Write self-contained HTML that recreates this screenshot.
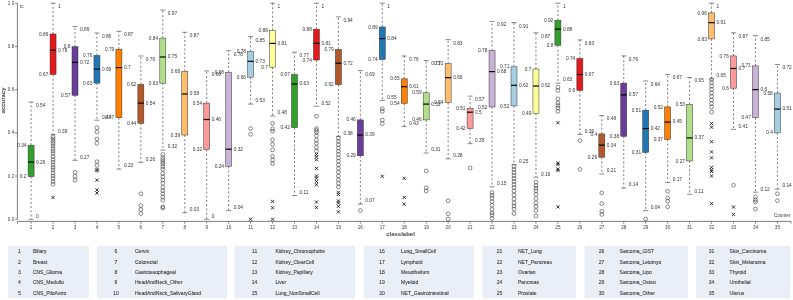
<!DOCTYPE html>
<html><head><meta charset="utf-8"><style>
html,body{margin:0;padding:0;background:#fff;width:793px;height:300px;overflow:hidden}
svg{display:block;will-change:transform}
</style></head><body>
<svg width="793" height="300" viewBox="0 0 793 300"><g stroke="#6e6e6e" stroke-width="0.9" fill="none">
<path d="M17.4 3.2V219.3"/>
<path d="M15 219.30H17.4"/>
<path d="M15 176.08H17.4"/>
<path d="M15 132.86H17.4"/>
<path d="M15 89.64H17.4"/>
<path d="M15 46.42H17.4"/>
<path d="M15 3.20H17.4"/>
<path d="M17.4 221.4H791"/>
<path d="M17.4 221.4V223.6M791 221.4V223.6"/>
<path d="M31.10 221.4V223.6"/>
<path d="M53.05 221.4V223.6"/>
<path d="M75.00 221.4V223.6"/>
<path d="M96.95 221.4V223.6"/>
<path d="M118.90 221.4V223.6"/>
<path d="M140.85 221.4V223.6"/>
<path d="M162.80 221.4V223.6"/>
<path d="M184.75 221.4V223.6"/>
<path d="M206.70 221.4V223.6"/>
<path d="M228.65 221.4V223.6"/>
<path d="M250.60 221.4V223.6"/>
<path d="M272.55 221.4V223.6"/>
<path d="M294.50 221.4V223.6"/>
<path d="M316.45 221.4V223.6"/>
<path d="M338.40 221.4V223.6"/>
<path d="M360.35 221.4V223.6"/>
<path d="M382.30 221.4V223.6"/>
<path d="M404.25 221.4V223.6"/>
<path d="M426.20 221.4V223.6"/>
<path d="M448.15 221.4V223.6"/>
<path d="M470.10 221.4V223.6"/>
<path d="M492.05 221.4V223.6"/>
<path d="M514.00 221.4V223.6"/>
<path d="M535.95 221.4V223.6"/>
<path d="M557.90 221.4V223.6"/>
<path d="M579.85 221.4V223.6"/>
<path d="M601.80 221.4V223.6"/>
<path d="M623.75 221.4V223.6"/>
<path d="M645.70 221.4V223.6"/>
<path d="M667.65 221.4V223.6"/>
<path d="M689.60 221.4V223.6"/>
<path d="M711.55 221.4V223.6"/>
<path d="M733.50 221.4V223.6"/>
<path d="M755.45 221.4V223.6"/>
<path d="M777.40 221.4V223.6"/>
</g>
<g font-family="Liberation Sans, sans-serif" font-size="4.6" fill="#3a3a3a">
<text x="14.2" y="220.90" text-anchor="end">0.0</text>
<text x="14.2" y="177.68" text-anchor="end">0.2</text>
<text x="14.2" y="134.46" text-anchor="end">0.4</text>
<text x="14.2" y="91.24" text-anchor="end">0.6</text>
<text x="14.2" y="48.02" text-anchor="end">0.8</text>
<text x="14.2" y="4.80" text-anchor="end">1.0</text>
<text x="31.10" y="228.6" text-anchor="middle">1</text>
<text x="53.05" y="228.6" text-anchor="middle">2</text>
<text x="75.00" y="228.6" text-anchor="middle">3</text>
<text x="96.95" y="228.6" text-anchor="middle">4</text>
<text x="118.90" y="228.6" text-anchor="middle">5</text>
<text x="140.85" y="228.6" text-anchor="middle">6</text>
<text x="162.80" y="228.6" text-anchor="middle">7</text>
<text x="184.75" y="228.6" text-anchor="middle">8</text>
<text x="206.70" y="228.6" text-anchor="middle">9</text>
<text x="228.65" y="228.6" text-anchor="middle">10</text>
<text x="250.60" y="228.6" text-anchor="middle">11</text>
<text x="272.55" y="228.6" text-anchor="middle">12</text>
<text x="294.50" y="228.6" text-anchor="middle">13</text>
<text x="316.45" y="228.6" text-anchor="middle">14</text>
<text x="338.40" y="228.6" text-anchor="middle">15</text>
<text x="360.35" y="228.6" text-anchor="middle">16</text>
<text x="382.30" y="228.6" text-anchor="middle">17</text>
<text x="404.25" y="228.6" text-anchor="middle">18</text>
<text x="426.20" y="228.6" text-anchor="middle">19</text>
<text x="448.15" y="228.6" text-anchor="middle">20</text>
<text x="470.10" y="228.6" text-anchor="middle">21</text>
<text x="492.05" y="228.6" text-anchor="middle">22</text>
<text x="514.00" y="228.6" text-anchor="middle">23</text>
<text x="535.95" y="228.6" text-anchor="middle">24</text>
<text x="557.90" y="228.6" text-anchor="middle">25</text>
<text x="579.85" y="228.6" text-anchor="middle">26</text>
<text x="601.80" y="228.6" text-anchor="middle">27</text>
<text x="623.75" y="228.6" text-anchor="middle">28</text>
<text x="645.70" y="228.6" text-anchor="middle">29</text>
<text x="667.65" y="228.6" text-anchor="middle">30</text>
<text x="689.60" y="228.6" text-anchor="middle">31</text>
<text x="711.55" y="228.6" text-anchor="middle">32</text>
<text x="733.50" y="228.6" text-anchor="middle">33</text>
<text x="755.45" y="228.6" text-anchor="middle">34</text>
<text x="777.40" y="228.6" text-anchor="middle">35</text>
</g>
<text x="400.5" y="235.8" font-family="Liberation Sans, sans-serif" font-size="6" font-weight="bold" fill="#444" text-anchor="middle">classlabel</text>
<text transform="translate(5.0 100.4) rotate(-90)" font-family="Liberation Sans, sans-serif" font-size="6" font-weight="bold" fill="#444" text-anchor="middle">accuracy</text>
<text x="19.8" y="8.0" font-family="Liberation Sans, sans-serif" font-size="4.8" fill="#444">tc</text>
<text x="774" y="216.6" font-family="Liberation Sans, sans-serif" font-size="4.6" fill="#3a3a3a">Counter</text>
<path d="M31.10 145.20V102.10M31.10 176.70V219.30" stroke="#505050" stroke-width="0.75" stroke-dasharray="2 2.2" fill="none"/>
<path d="M28.60 102.10H33.60M28.60 219.30H33.60" stroke="#555" stroke-width="0.7" fill="none"/>
<rect x="28.10" y="145.20" width="6.00" height="31.50" fill="#33A02C" stroke="#333" stroke-width="0.5"/>
<path d="M28.10 162.10H34.10" stroke="#000" stroke-width="1.2"/>
<g font-family="Liberation Sans, sans-serif" font-size="4.8" fill="#333">
<text x="36.10" y="107.00">0.54</text>
<text x="36.10" y="217.60">0</text>
<text x="36.10" y="163.50">0.26</text>
<text x="26.50" y="146.80" text-anchor="end">0.34</text>
<text x="26.50" y="178.30" text-anchor="end">0.2</text>
</g>
<path d="M53.05 34.00V3.20M53.05 74.51V134.60" stroke="#505050" stroke-width="0.75" stroke-dasharray="2 2.2" fill="none"/>
<path d="M50.55 3.20H55.55M50.55 134.60H55.55" stroke="#555" stroke-width="0.7" fill="none"/>
<rect x="50.05" y="34.00" width="6.00" height="40.51" fill="#E31A1C" stroke="#333" stroke-width="0.5"/>
<path d="M50.05 50.20H56.05" stroke="#000" stroke-width="1.2"/>
<circle cx="53.05" cy="136.80" r="1.9" fill="none" stroke="#3a3a3a" stroke-width="0.6"/>
<circle cx="53.05" cy="139.00" r="1.9" fill="none" stroke="#3a3a3a" stroke-width="0.6"/>
<circle cx="53.05" cy="141.20" r="1.9" fill="none" stroke="#3a3a3a" stroke-width="0.6"/>
<circle cx="53.05" cy="143.50" r="1.9" fill="none" stroke="#3a3a3a" stroke-width="0.6"/>
<circle cx="53.05" cy="146.00" r="1.9" fill="none" stroke="#3a3a3a" stroke-width="0.6"/>
<circle cx="53.05" cy="148.50" r="1.9" fill="none" stroke="#3a3a3a" stroke-width="0.6"/>
<circle cx="53.05" cy="151.00" r="1.9" fill="none" stroke="#3a3a3a" stroke-width="0.6"/>
<circle cx="53.05" cy="153.50" r="1.9" fill="none" stroke="#3a3a3a" stroke-width="0.6"/>
<circle cx="53.05" cy="156.50" r="1.9" fill="none" stroke="#3a3a3a" stroke-width="0.6"/>
<circle cx="53.05" cy="159.50" r="1.9" fill="none" stroke="#3a3a3a" stroke-width="0.6"/>
<circle cx="53.05" cy="162.00" r="1.9" fill="none" stroke="#3a3a3a" stroke-width="0.6"/>
<circle cx="53.05" cy="165.00" r="1.9" fill="none" stroke="#3a3a3a" stroke-width="0.6"/>
<circle cx="53.05" cy="167.50" r="1.9" fill="none" stroke="#3a3a3a" stroke-width="0.6"/>
<circle cx="53.05" cy="170.00" r="1.9" fill="none" stroke="#3a3a3a" stroke-width="0.6"/>
<circle cx="53.05" cy="173.00" r="1.9" fill="none" stroke="#3a3a3a" stroke-width="0.6"/>
<circle cx="53.05" cy="176.00" r="1.9" fill="none" stroke="#3a3a3a" stroke-width="0.6"/>
<circle cx="53.05" cy="178.50" r="1.9" fill="none" stroke="#3a3a3a" stroke-width="0.6"/>
<circle cx="53.05" cy="181.50" r="1.9" fill="none" stroke="#3a3a3a" stroke-width="0.6"/>
<circle cx="53.05" cy="184.20" r="1.9" fill="none" stroke="#3a3a3a" stroke-width="0.6"/>
<path d="M51.45 195.90L54.65 199.10M51.45 199.10L54.65 195.90" stroke="#111" stroke-width="0.85"/>
<g font-family="Liberation Sans, sans-serif" font-size="4.8" fill="#333">
<text x="58.05" y="8.10">1</text>
<text x="58.05" y="132.90">0.39</text>
<text x="58.05" y="51.60">0.78</text>
<text x="48.45" y="35.60" text-anchor="end">0.86</text>
<text x="48.45" y="76.11" text-anchor="end">0.67</text>
</g>
<path d="M75.00 46.70V26.50M75.00 95.30V160.30" stroke="#505050" stroke-width="0.75" stroke-dasharray="2 2.2" fill="none"/>
<path d="M72.50 26.50H77.50M72.50 160.30H77.50" stroke="#555" stroke-width="0.7" fill="none"/>
<rect x="72.00" y="46.70" width="6.00" height="48.60" fill="#6A3D9A" stroke="#333" stroke-width="0.5"/>
<path d="M72.00 62.40H78.00" stroke="#000" stroke-width="1.2"/>
<circle cx="75.00" cy="172.30" r="1.9" fill="none" stroke="#3a3a3a" stroke-width="0.6"/>
<circle cx="75.00" cy="176.30" r="1.9" fill="none" stroke="#3a3a3a" stroke-width="0.6"/>
<circle cx="75.00" cy="180.00" r="1.9" fill="none" stroke="#3a3a3a" stroke-width="0.6"/>
<g font-family="Liberation Sans, sans-serif" font-size="4.8" fill="#333">
<text x="80.00" y="31.40">0.89</text>
<text x="80.00" y="158.60">0.27</text>
<text x="80.00" y="63.80">0.72</text>
<text x="70.40" y="48.30" text-anchor="end">0.8</text>
<text x="70.40" y="96.90" text-anchor="end">0.57</text>
</g>
<path d="M96.95 55.50V33.00M96.95 83.16V120.20" stroke="#505050" stroke-width="0.75" stroke-dasharray="2 2.2" fill="none"/>
<path d="M94.45 33.00H99.45M94.45 120.20H99.45" stroke="#555" stroke-width="0.7" fill="none"/>
<rect x="93.95" y="55.50" width="6.00" height="27.66" fill="#1F78B4" stroke="#333" stroke-width="0.5"/>
<path d="M93.95 69.10H99.95" stroke="#000" stroke-width="1.2"/>
<circle cx="96.95" cy="127.70" r="1.9" fill="none" stroke="#3a3a3a" stroke-width="0.6"/>
<circle cx="96.95" cy="132.00" r="1.9" fill="none" stroke="#3a3a3a" stroke-width="0.6"/>
<circle cx="96.95" cy="139.00" r="1.9" fill="none" stroke="#3a3a3a" stroke-width="0.6"/>
<circle cx="96.95" cy="143.30" r="1.9" fill="none" stroke="#3a3a3a" stroke-width="0.6"/>
<circle cx="96.95" cy="161.70" r="1.9" fill="none" stroke="#3a3a3a" stroke-width="0.6"/>
<circle cx="96.95" cy="165.40" r="1.9" fill="none" stroke="#3a3a3a" stroke-width="0.6"/>
<circle cx="96.95" cy="170.20" r="1.9" fill="none" stroke="#3a3a3a" stroke-width="0.6"/>
<path d="M95.35 168.60L98.55 171.80M95.35 171.80L98.55 168.60" stroke="#111" stroke-width="0.85"/>
<path d="M95.35 178.60L98.55 181.80M95.35 181.80L98.55 178.60" stroke="#111" stroke-width="0.85"/>
<path d="M95.35 188.40L98.55 191.60M95.35 191.60L98.55 188.40" stroke="#111" stroke-width="0.85"/>
<path d="M95.35 191.40L98.55 194.60M95.35 194.60L98.55 191.40" stroke="#111" stroke-width="0.85"/>
<g font-family="Liberation Sans, sans-serif" font-size="4.8" fill="#333">
<text x="101.95" y="37.90">0.86</text>
<text x="101.95" y="118.50">0.47</text>
<text x="101.95" y="70.50">0.69</text>
<text x="92.35" y="57.10" text-anchor="end">0.76</text>
<text x="92.35" y="84.76" text-anchor="end">0.63</text>
</g>
<path d="M118.90 49.20V31.29M118.90 117.73V169.10" stroke="#505050" stroke-width="0.75" stroke-dasharray="2 2.2" fill="none"/>
<path d="M116.40 31.29H121.40M116.40 169.10H121.40" stroke="#555" stroke-width="0.7" fill="none"/>
<rect x="115.90" y="49.20" width="6.00" height="68.53" fill="#FF7F00" stroke="#333" stroke-width="0.5"/>
<path d="M115.90 67.60H121.90" stroke="#000" stroke-width="1.2"/>
<g font-family="Liberation Sans, sans-serif" font-size="4.8" fill="#333">
<text x="123.90" y="36.19">0.87</text>
<text x="123.90" y="167.40">0.23</text>
<text x="123.90" y="69.00">0.7</text>
<text x="114.30" y="50.80" text-anchor="end">0.79</text>
<text x="114.30" y="119.33" text-anchor="end">0.47</text>
</g>
<path d="M140.85 84.50V56.00M140.85 123.30V162.30" stroke="#505050" stroke-width="0.75" stroke-dasharray="2 2.2" fill="none"/>
<path d="M138.35 56.00H143.35M138.35 162.30H143.35" stroke="#555" stroke-width="0.7" fill="none"/>
<rect x="137.85" y="84.50" width="6.00" height="38.80" fill="#B15928" stroke="#333" stroke-width="0.5"/>
<path d="M137.85 103.10H143.85" stroke="#000" stroke-width="1.2"/>
<circle cx="140.85" cy="193.80" r="1.9" fill="none" stroke="#3a3a3a" stroke-width="0.6"/>
<circle cx="140.85" cy="205.60" r="1.9" fill="none" stroke="#3a3a3a" stroke-width="0.6"/>
<circle cx="140.85" cy="209.50" r="1.9" fill="none" stroke="#3a3a3a" stroke-width="0.6"/>
<circle cx="140.85" cy="213.50" r="1.9" fill="none" stroke="#3a3a3a" stroke-width="0.6"/>
<g font-family="Liberation Sans, sans-serif" font-size="4.8" fill="#333">
<text x="145.85" y="60.90">0.76</text>
<text x="145.85" y="160.60">0.26</text>
<text x="145.85" y="104.50">0.54</text>
<text x="136.25" y="86.10" text-anchor="end">0.62</text>
<text x="136.25" y="124.90" text-anchor="end">0.44</text>
</g>
<path d="M162.80 38.10V10.10M162.80 83.16V150.15" stroke="#505050" stroke-width="0.75" stroke-dasharray="2 2.2" fill="none"/>
<path d="M160.30 10.10H165.30M160.30 150.15H165.30" stroke="#555" stroke-width="0.7" fill="none"/>
<rect x="159.80" y="38.10" width="6.00" height="45.06" fill="#B2DF8A" stroke="#333" stroke-width="0.5"/>
<path d="M159.80 57.00H165.80" stroke="#000" stroke-width="1.2"/>
<circle cx="162.80" cy="154.40" r="1.9" fill="none" stroke="#3a3a3a" stroke-width="0.6"/>
<circle cx="162.80" cy="157.60" r="1.9" fill="none" stroke="#3a3a3a" stroke-width="0.6"/>
<circle cx="162.80" cy="159.70" r="1.9" fill="none" stroke="#3a3a3a" stroke-width="0.6"/>
<circle cx="162.80" cy="161.90" r="1.9" fill="none" stroke="#3a3a3a" stroke-width="0.6"/>
<circle cx="162.80" cy="164.00" r="1.9" fill="none" stroke="#3a3a3a" stroke-width="0.6"/>
<circle cx="162.80" cy="166.60" r="1.9" fill="none" stroke="#3a3a3a" stroke-width="0.6"/>
<circle cx="162.80" cy="169.30" r="1.9" fill="none" stroke="#3a3a3a" stroke-width="0.6"/>
<circle cx="162.80" cy="173.60" r="1.9" fill="none" stroke="#3a3a3a" stroke-width="0.6"/>
<circle cx="162.80" cy="176.80" r="1.9" fill="none" stroke="#3a3a3a" stroke-width="0.6"/>
<circle cx="162.80" cy="180.00" r="1.9" fill="none" stroke="#3a3a3a" stroke-width="0.6"/>
<circle cx="162.80" cy="183.20" r="1.9" fill="none" stroke="#3a3a3a" stroke-width="0.6"/>
<circle cx="162.80" cy="187.40" r="1.9" fill="none" stroke="#3a3a3a" stroke-width="0.6"/>
<circle cx="162.80" cy="190.60" r="1.9" fill="none" stroke="#3a3a3a" stroke-width="0.6"/>
<circle cx="162.80" cy="193.80" r="1.9" fill="none" stroke="#3a3a3a" stroke-width="0.6"/>
<circle cx="162.80" cy="197.00" r="1.9" fill="none" stroke="#3a3a3a" stroke-width="0.6"/>
<circle cx="162.80" cy="200.20" r="1.9" fill="none" stroke="#3a3a3a" stroke-width="0.6"/>
<circle cx="162.80" cy="206.80" r="1.9" fill="none" stroke="#3a3a3a" stroke-width="0.6"/>
<circle cx="162.80" cy="208.00" r="1.9" fill="none" stroke="#3a3a3a" stroke-width="0.6"/>
<g font-family="Liberation Sans, sans-serif" font-size="4.8" fill="#333">
<text x="167.80" y="15.00">0.97</text>
<text x="167.80" y="148.45">0.32</text>
<text x="167.80" y="58.40">0.75</text>
<text x="158.20" y="39.70" text-anchor="end">0.84</text>
<text x="158.20" y="84.76" text-anchor="end">0.63</text>
</g>
<path d="M184.75 71.40V32.30M184.75 135.02V212.82" stroke="#505050" stroke-width="0.75" stroke-dasharray="2 2.2" fill="none"/>
<path d="M182.25 32.30H187.25M182.25 212.82H187.25" stroke="#555" stroke-width="0.7" fill="none"/>
<rect x="181.75" y="71.40" width="6.00" height="63.62" fill="#FDBF6F" stroke="#333" stroke-width="0.5"/>
<path d="M181.75 93.96H187.75" stroke="#000" stroke-width="1.2"/>
<g font-family="Liberation Sans, sans-serif" font-size="4.8" fill="#333">
<text x="189.75" y="37.20">0.87</text>
<text x="189.75" y="211.12">0.03</text>
<text x="189.75" y="95.36">0.58</text>
<text x="180.15" y="73.00" text-anchor="end">0.68</text>
<text x="180.15" y="136.62" text-anchor="end">0.39</text>
</g>
<path d="M206.70 103.10V70.90M206.70 149.60V219.30" stroke="#505050" stroke-width="0.75" stroke-dasharray="2 2.2" fill="none"/>
<path d="M204.20 70.90H209.20M204.20 219.30H209.20" stroke="#555" stroke-width="0.7" fill="none"/>
<rect x="203.70" y="103.10" width="6.00" height="46.50" fill="#FB9A99" stroke="#333" stroke-width="0.5"/>
<path d="M203.70 119.50H209.70" stroke="#000" stroke-width="1.2"/>
<g font-family="Liberation Sans, sans-serif" font-size="4.8" fill="#333">
<text x="211.70" y="75.80">0.69</text>
<text x="211.70" y="217.60">0</text>
<text x="211.70" y="120.90">0.46</text>
<text x="202.10" y="104.70" text-anchor="end">0.54</text>
<text x="202.10" y="151.20" text-anchor="end">0.32</text>
</g>
<path d="M228.65 72.35V50.74M228.65 166.30V210.66" stroke="#505050" stroke-width="0.75" stroke-dasharray="2 2.2" fill="none"/>
<path d="M226.15 50.74H231.15M226.15 210.66H231.15" stroke="#555" stroke-width="0.7" fill="none"/>
<rect x="225.65" y="72.35" width="6.00" height="93.95" fill="#CAB2D6" stroke="#333" stroke-width="0.5"/>
<path d="M225.65 149.20H231.65" stroke="#000" stroke-width="1.2"/>
<g font-family="Liberation Sans, sans-serif" font-size="4.8" fill="#333">
<text x="233.65" y="55.64">0.78</text>
<text x="233.65" y="208.96">0.04</text>
<text x="233.65" y="150.60">0.32</text>
<text x="224.05" y="73.95" text-anchor="end">0.68</text>
<text x="224.05" y="167.90" text-anchor="end">0.24</text>
</g>
<path d="M250.60 51.61V36.60M250.60 77.20V104.10" stroke="#505050" stroke-width="0.75" stroke-dasharray="2 2.2" fill="none"/>
<path d="M248.10 36.60H253.10M248.10 104.10H253.10" stroke="#555" stroke-width="0.7" fill="none"/>
<rect x="247.60" y="51.61" width="6.00" height="25.59" fill="#A6CEE3" stroke="#333" stroke-width="0.5"/>
<path d="M247.60 61.30H253.60" stroke="#000" stroke-width="1.2"/>
<circle cx="250.60" cy="128.60" r="1.9" fill="none" stroke="#3a3a3a" stroke-width="0.6"/>
<circle cx="250.60" cy="134.30" r="1.9" fill="none" stroke="#3a3a3a" stroke-width="0.6"/>
<path d="M249.00 217.70L252.20 220.90M249.00 220.90L252.20 217.70" stroke="#111" stroke-width="0.85"/>
<g font-family="Liberation Sans, sans-serif" font-size="4.8" fill="#333">
<text x="255.60" y="41.50">0.85</text>
<text x="255.60" y="102.40">0.53</text>
<text x="255.60" y="62.70">0.73</text>
<text x="246.00" y="53.21" text-anchor="end">0.78</text>
<text x="246.00" y="78.80" text-anchor="end">0.66</text>
</g>
<path d="M272.55 30.30V3.20M272.55 67.20V116.00" stroke="#505050" stroke-width="0.75" stroke-dasharray="2 2.2" fill="none"/>
<path d="M270.05 3.20H275.05M270.05 116.00H275.05" stroke="#555" stroke-width="0.7" fill="none"/>
<rect x="269.55" y="30.30" width="6.00" height="36.90" fill="#FFFF99" stroke="#333" stroke-width="0.5"/>
<path d="M269.55 43.40H275.55" stroke="#000" stroke-width="1.2"/>
<circle cx="272.55" cy="123.30" r="1.9" fill="none" stroke="#3a3a3a" stroke-width="0.6"/>
<circle cx="272.55" cy="128.80" r="1.9" fill="none" stroke="#3a3a3a" stroke-width="0.6"/>
<circle cx="272.55" cy="131.10" r="1.9" fill="none" stroke="#3a3a3a" stroke-width="0.6"/>
<circle cx="272.55" cy="139.80" r="1.9" fill="none" stroke="#3a3a3a" stroke-width="0.6"/>
<circle cx="272.55" cy="144.40" r="1.9" fill="none" stroke="#3a3a3a" stroke-width="0.6"/>
<circle cx="272.55" cy="149.90" r="1.9" fill="none" stroke="#3a3a3a" stroke-width="0.6"/>
<circle cx="272.55" cy="156.30" r="1.9" fill="none" stroke="#3a3a3a" stroke-width="0.6"/>
<circle cx="272.55" cy="160.00" r="1.9" fill="none" stroke="#3a3a3a" stroke-width="0.6"/>
<circle cx="272.55" cy="163.60" r="1.9" fill="none" stroke="#3a3a3a" stroke-width="0.6"/>
<path d="M270.95 199.80L274.15 203.00M270.95 203.00L274.15 199.80" stroke="#111" stroke-width="0.85"/>
<path d="M270.95 206.20L274.15 209.40M270.95 209.40L274.15 206.20" stroke="#111" stroke-width="0.85"/>
<path d="M270.95 217.70L274.15 220.90M270.95 220.90L274.15 217.70" stroke="#111" stroke-width="0.85"/>
<g font-family="Liberation Sans, sans-serif" font-size="4.8" fill="#333">
<text x="277.55" y="8.10">1</text>
<text x="277.55" y="114.30">0.48</text>
<text x="277.55" y="44.80">0.81</text>
<text x="267.95" y="31.90" text-anchor="end">0.88</text>
<text x="267.95" y="68.80" text-anchor="end">0.7</text>
</g>
<path d="M294.50 74.51V52.20M294.50 127.60V195.53" stroke="#505050" stroke-width="0.75" stroke-dasharray="2 2.2" fill="none"/>
<path d="M292.00 52.20H297.00M292.00 195.53H297.00" stroke="#555" stroke-width="0.7" fill="none"/>
<rect x="291.50" y="74.51" width="6.00" height="53.09" fill="#33A02C" stroke="#333" stroke-width="0.5"/>
<path d="M291.50 84.00H297.50" stroke="#000" stroke-width="1.2"/>
<g font-family="Liberation Sans, sans-serif" font-size="4.8" fill="#333">
<text x="299.50" y="57.10">0.77</text>
<text x="299.50" y="193.83">0.11</text>
<text x="299.50" y="85.40">0.63</text>
<text x="289.90" y="76.11" text-anchor="end">0.67</text>
<text x="289.90" y="129.20" text-anchor="end">0.42</text>
</g>
<path d="M316.45 29.13V3.20M316.45 60.00V106.20" stroke="#505050" stroke-width="0.75" stroke-dasharray="2 2.2" fill="none"/>
<path d="M313.95 3.20H318.95M313.95 106.20H318.95" stroke="#555" stroke-width="0.7" fill="none"/>
<rect x="313.45" y="29.13" width="6.00" height="30.87" fill="#E31A1C" stroke="#333" stroke-width="0.5"/>
<path d="M313.45 43.40H319.45" stroke="#000" stroke-width="1.2"/>
<circle cx="316.45" cy="116.30" r="1.9" fill="none" stroke="#3a3a3a" stroke-width="0.6"/>
<circle cx="316.45" cy="128.60" r="1.9" fill="none" stroke="#3a3a3a" stroke-width="0.6"/>
<circle cx="316.45" cy="130.40" r="1.9" fill="none" stroke="#3a3a3a" stroke-width="0.6"/>
<circle cx="316.45" cy="132.50" r="1.9" fill="none" stroke="#3a3a3a" stroke-width="0.6"/>
<circle cx="316.45" cy="135.80" r="1.9" fill="none" stroke="#3a3a3a" stroke-width="0.6"/>
<circle cx="316.45" cy="140.00" r="1.9" fill="none" stroke="#3a3a3a" stroke-width="0.6"/>
<circle cx="316.45" cy="143.30" r="1.9" fill="none" stroke="#3a3a3a" stroke-width="0.6"/>
<circle cx="316.45" cy="147.50" r="1.9" fill="none" stroke="#3a3a3a" stroke-width="0.6"/>
<circle cx="316.45" cy="151.00" r="1.9" fill="none" stroke="#3a3a3a" stroke-width="0.6"/>
<path d="M314.85 152.90L318.05 156.10M314.85 156.10L318.05 152.90" stroke="#111" stroke-width="0.85"/>
<path d="M314.85 155.40L318.05 158.60M314.85 158.60L318.05 155.40" stroke="#111" stroke-width="0.85"/>
<path d="M314.85 158.20L318.05 161.40M314.85 161.40L318.05 158.20" stroke="#111" stroke-width="0.85"/>
<path d="M314.85 166.80L318.05 170.00M314.85 170.00L318.05 166.80" stroke="#111" stroke-width="0.85"/>
<path d="M314.85 174.40L318.05 177.60M314.85 177.60L318.05 174.40" stroke="#111" stroke-width="0.85"/>
<path d="M314.85 176.60L318.05 179.80M314.85 179.80L318.05 176.60" stroke="#111" stroke-width="0.85"/>
<path d="M314.85 179.80L318.05 183.00M314.85 183.00L318.05 179.80" stroke="#111" stroke-width="0.85"/>
<path d="M314.85 183.10L318.05 186.30M314.85 186.30L318.05 183.10" stroke="#111" stroke-width="0.85"/>
<path d="M314.85 200.40L318.05 203.60M314.85 203.60L318.05 200.40" stroke="#111" stroke-width="0.85"/>
<path d="M314.85 205.80L318.05 209.00M314.85 209.00L318.05 205.80" stroke="#111" stroke-width="0.85"/>
<g font-family="Liberation Sans, sans-serif" font-size="4.8" fill="#333">
<text x="321.45" y="8.10">1</text>
<text x="321.45" y="104.50">0.52</text>
<text x="321.45" y="44.80">0.81</text>
<text x="311.85" y="30.73" text-anchor="end">0.88</text>
<text x="311.85" y="61.60" text-anchor="end">0.74</text>
</g>
<path d="M338.40 49.40V16.90M338.40 84.70V136.30" stroke="#505050" stroke-width="0.75" stroke-dasharray="2 2.2" fill="none"/>
<path d="M335.90 16.90H340.90M335.90 136.30H340.90" stroke="#555" stroke-width="0.7" fill="none"/>
<rect x="335.40" y="49.40" width="6.00" height="35.30" fill="#B15928" stroke="#333" stroke-width="0.5"/>
<path d="M335.40 63.20H341.40" stroke="#000" stroke-width="1.2"/>
<circle cx="338.40" cy="138.20" r="1.9" fill="none" stroke="#3a3a3a" stroke-width="0.6"/>
<circle cx="338.40" cy="141.40" r="1.9" fill="none" stroke="#3a3a3a" stroke-width="0.6"/>
<circle cx="338.40" cy="144.60" r="1.9" fill="none" stroke="#3a3a3a" stroke-width="0.6"/>
<circle cx="338.40" cy="148.00" r="1.9" fill="none" stroke="#3a3a3a" stroke-width="0.6"/>
<circle cx="338.40" cy="151.20" r="1.9" fill="none" stroke="#3a3a3a" stroke-width="0.6"/>
<circle cx="338.40" cy="154.40" r="1.9" fill="none" stroke="#3a3a3a" stroke-width="0.6"/>
<circle cx="338.40" cy="157.80" r="1.9" fill="none" stroke="#3a3a3a" stroke-width="0.6"/>
<circle cx="338.40" cy="161.20" r="1.9" fill="none" stroke="#3a3a3a" stroke-width="0.6"/>
<circle cx="338.40" cy="164.80" r="1.9" fill="none" stroke="#3a3a3a" stroke-width="0.6"/>
<circle cx="338.40" cy="168.50" r="1.9" fill="none" stroke="#3a3a3a" stroke-width="0.6"/>
<circle cx="338.40" cy="172.20" r="1.9" fill="none" stroke="#3a3a3a" stroke-width="0.6"/>
<circle cx="338.40" cy="176.00" r="1.9" fill="none" stroke="#3a3a3a" stroke-width="0.6"/>
<circle cx="338.40" cy="179.80" r="1.9" fill="none" stroke="#3a3a3a" stroke-width="0.6"/>
<circle cx="338.40" cy="183.40" r="1.9" fill="none" stroke="#3a3a3a" stroke-width="0.6"/>
<circle cx="338.40" cy="187.00" r="1.9" fill="none" stroke="#3a3a3a" stroke-width="0.6"/>
<path d="M336.80 190.70L340.00 193.90M336.80 193.90L340.00 190.70" stroke="#111" stroke-width="0.85"/>
<path d="M336.80 192.80L340.00 196.00M336.80 196.00L340.00 192.80" stroke="#111" stroke-width="0.85"/>
<path d="M336.80 199.40L340.00 202.60M336.80 202.60L340.00 199.40" stroke="#111" stroke-width="0.85"/>
<path d="M336.80 201.40L340.00 204.60M336.80 204.60L340.00 201.40" stroke="#111" stroke-width="0.85"/>
<path d="M336.80 204.70L340.00 207.90M336.80 207.90L340.00 204.70" stroke="#111" stroke-width="0.85"/>
<path d="M336.80 210.20L340.00 213.40M336.80 213.40L340.00 210.20" stroke="#111" stroke-width="0.85"/>
<g font-family="Liberation Sans, sans-serif" font-size="4.8" fill="#333">
<text x="343.40" y="21.80">0.94</text>
<text x="343.40" y="134.60">0.38</text>
<text x="343.40" y="64.60">0.72</text>
<text x="333.80" y="51.00" text-anchor="end">0.79</text>
<text x="333.80" y="86.30" text-anchor="end">0.62</text>
</g>
<path d="M360.35 119.89V70.60M360.35 155.80V204.17" stroke="#505050" stroke-width="0.75" stroke-dasharray="2 2.2" fill="none"/>
<path d="M357.85 70.60H362.85M357.85 204.17H362.85" stroke="#555" stroke-width="0.7" fill="none"/>
<rect x="357.35" y="119.89" width="6.00" height="35.91" fill="#6A3D9A" stroke="#333" stroke-width="0.5"/>
<path d="M357.35 135.02H363.35" stroke="#000" stroke-width="1.2"/>
<circle cx="360.35" cy="210.50" r="1.9" fill="none" stroke="#3a3a3a" stroke-width="0.6"/>
<g font-family="Liberation Sans, sans-serif" font-size="4.8" fill="#333">
<text x="365.35" y="75.50">0.69</text>
<text x="365.35" y="202.47">0.07</text>
<text x="365.35" y="136.42">0.39</text>
<text x="355.75" y="121.49" text-anchor="end">0.46</text>
<text x="355.75" y="157.40" text-anchor="end">0.29</text>
</g>
<path d="M382.30 26.97V3.20M382.30 59.39V100.45" stroke="#505050" stroke-width="0.75" stroke-dasharray="2 2.2" fill="none"/>
<path d="M379.80 3.20H384.80M379.80 100.45H384.80" stroke="#555" stroke-width="0.7" fill="none"/>
<rect x="379.30" y="26.97" width="6.00" height="32.42" fill="#1F78B4" stroke="#333" stroke-width="0.5"/>
<path d="M379.30 38.60H385.30" stroke="#000" stroke-width="1.2"/>
<circle cx="382.30" cy="108.75" r="1.9" fill="none" stroke="#3a3a3a" stroke-width="0.6"/>
<circle cx="382.30" cy="111.25" r="1.9" fill="none" stroke="#3a3a3a" stroke-width="0.6"/>
<circle cx="382.30" cy="120.00" r="1.9" fill="none" stroke="#3a3a3a" stroke-width="0.6"/>
<circle cx="382.30" cy="123.75" r="1.9" fill="none" stroke="#3a3a3a" stroke-width="0.6"/>
<path d="M380.70 174.70L383.90 177.90M380.70 177.90L383.90 174.70" stroke="#111" stroke-width="0.85"/>
<g font-family="Liberation Sans, sans-serif" font-size="4.8" fill="#333">
<text x="387.30" y="8.10">1</text>
<text x="387.30" y="98.75">0.55</text>
<text x="387.30" y="40.00">0.84</text>
<text x="377.70" y="28.57" text-anchor="end">0.89</text>
<text x="377.70" y="60.99" text-anchor="end">0.74</text>
</g>
<path d="M404.25 78.84V56.00M404.25 103.40V126.38" stroke="#505050" stroke-width="0.75" stroke-dasharray="2 2.2" fill="none"/>
<path d="M401.75 56.00H406.75M401.75 126.38H406.75" stroke="#555" stroke-width="0.7" fill="none"/>
<rect x="401.25" y="78.84" width="6.00" height="24.56" fill="#FF7F00" stroke="#333" stroke-width="0.5"/>
<path d="M401.25 86.70H407.25" stroke="#000" stroke-width="1.2"/>
<path d="M402.65 176.70L405.85 179.90M402.65 179.90L405.85 176.70" stroke="#111" stroke-width="0.85"/>
<path d="M402.65 195.80L405.85 199.00M402.65 199.00L405.85 195.80" stroke="#111" stroke-width="0.85"/>
<path d="M402.65 202.60L405.85 205.80M402.65 205.80L405.85 202.60" stroke="#111" stroke-width="0.85"/>
<g font-family="Liberation Sans, sans-serif" font-size="4.8" fill="#333">
<text x="409.25" y="60.90">0.76</text>
<text x="409.25" y="124.68">0.43</text>
<text x="409.25" y="88.10">0.61</text>
<text x="399.65" y="80.44" text-anchor="end">0.65</text>
<text x="399.65" y="105.00" text-anchor="end">0.54</text>
</g>
<path d="M426.20 92.80V60.50M426.20 119.89V153.00" stroke="#505050" stroke-width="0.75" stroke-dasharray="2 2.2" fill="none"/>
<path d="M423.70 60.50H428.70M423.70 153.00H428.70" stroke="#555" stroke-width="0.7" fill="none"/>
<rect x="423.20" y="92.80" width="6.00" height="27.09" fill="#B2DF8A" stroke="#333" stroke-width="0.5"/>
<path d="M423.20 104.10H429.20" stroke="#000" stroke-width="1.2"/>
<circle cx="426.20" cy="170.90" r="1.9" fill="none" stroke="#3a3a3a" stroke-width="0.6"/>
<circle cx="426.20" cy="187.80" r="1.9" fill="none" stroke="#3a3a3a" stroke-width="0.6"/>
<circle cx="426.20" cy="191.00" r="1.9" fill="none" stroke="#3a3a3a" stroke-width="0.6"/>
<g font-family="Liberation Sans, sans-serif" font-size="4.8" fill="#333">
<text x="431.20" y="65.40">0.73</text>
<text x="431.20" y="151.30">0.31</text>
<text x="431.20" y="105.50">0.53</text>
<text x="421.60" y="94.40" text-anchor="end">0.59</text>
<text x="421.60" y="121.49" text-anchor="end">0.46</text>
</g>
<path d="M448.15 63.71V39.60M448.15 102.61V158.79" stroke="#505050" stroke-width="0.75" stroke-dasharray="2 2.2" fill="none"/>
<path d="M445.65 39.60H450.65M445.65 158.79H450.65" stroke="#555" stroke-width="0.7" fill="none"/>
<rect x="445.15" y="63.71" width="6.00" height="38.90" fill="#FDBF6F" stroke="#333" stroke-width="0.5"/>
<path d="M445.15 77.70H451.15" stroke="#000" stroke-width="1.2"/>
<circle cx="448.15" cy="200.70" r="1.9" fill="none" stroke="#3a3a3a" stroke-width="0.6"/>
<circle cx="448.15" cy="213.80" r="1.9" fill="none" stroke="#3a3a3a" stroke-width="0.6"/>
<circle cx="448.15" cy="219.20" r="1.9" fill="none" stroke="#3a3a3a" stroke-width="0.6"/>
<g font-family="Liberation Sans, sans-serif" font-size="4.8" fill="#333">
<text x="453.15" y="44.50">0.83</text>
<text x="453.15" y="157.09">0.28</text>
<text x="453.15" y="79.10">0.66</text>
<text x="443.55" y="65.31" text-anchor="end">0.72</text>
<text x="443.55" y="104.21" text-anchor="end">0.54</text>
</g>
<path d="M470.10 108.40V96.12M470.10 128.54V143.67" stroke="#505050" stroke-width="0.75" stroke-dasharray="2 2.2" fill="none"/>
<path d="M467.60 96.12H472.60M467.60 143.67H472.60" stroke="#555" stroke-width="0.7" fill="none"/>
<rect x="467.10" y="108.40" width="6.00" height="20.14" fill="#FB9A99" stroke="#333" stroke-width="0.5"/>
<path d="M467.10 112.20H473.10" stroke="#000" stroke-width="1.2"/>
<circle cx="470.10" cy="168.00" r="1.9" fill="none" stroke="#3a3a3a" stroke-width="0.6"/>
<g font-family="Liberation Sans, sans-serif" font-size="4.8" fill="#333">
<text x="475.10" y="101.02">0.57</text>
<text x="475.10" y="141.97">0.35</text>
<text x="475.10" y="113.60">0.5</text>
<text x="465.50" y="110.00" text-anchor="end">0.51</text>
<text x="465.50" y="130.14" text-anchor="end">0.42</text>
</g>
<path d="M492.05 50.74V21.40M492.05 106.93V186.89" stroke="#505050" stroke-width="0.75" stroke-dasharray="2 2.2" fill="none"/>
<path d="M489.55 21.40H494.55M489.55 186.89H494.55" stroke="#555" stroke-width="0.7" fill="none"/>
<rect x="489.05" y="50.74" width="6.00" height="56.19" fill="#CAB2D6" stroke="#333" stroke-width="0.5"/>
<path d="M489.05 71.60H495.05" stroke="#000" stroke-width="1.2"/>
<circle cx="492.05" cy="192.60" r="1.9" fill="none" stroke="#3a3a3a" stroke-width="0.6"/>
<circle cx="492.05" cy="195.40" r="1.9" fill="none" stroke="#3a3a3a" stroke-width="0.6"/>
<circle cx="492.05" cy="198.20" r="1.9" fill="none" stroke="#3a3a3a" stroke-width="0.6"/>
<circle cx="492.05" cy="201.70" r="1.9" fill="none" stroke="#3a3a3a" stroke-width="0.6"/>
<circle cx="492.05" cy="205.20" r="1.9" fill="none" stroke="#3a3a3a" stroke-width="0.6"/>
<circle cx="492.05" cy="209.40" r="1.9" fill="none" stroke="#3a3a3a" stroke-width="0.6"/>
<circle cx="492.05" cy="212.90" r="1.9" fill="none" stroke="#3a3a3a" stroke-width="0.6"/>
<circle cx="492.05" cy="215.00" r="1.9" fill="none" stroke="#3a3a3a" stroke-width="0.6"/>
<circle cx="492.05" cy="218.50" r="1.9" fill="none" stroke="#3a3a3a" stroke-width="0.6"/>
<g font-family="Liberation Sans, sans-serif" font-size="4.8" fill="#333">
<text x="497.05" y="26.30">0.92</text>
<text x="497.05" y="185.19">0.15</text>
<text x="497.05" y="73.00">0.68</text>
<text x="487.45" y="52.34" text-anchor="end">0.78</text>
<text x="487.45" y="108.53" text-anchor="end">0.52</text>
</g>
<path d="M514.00 66.80V22.65M514.00 105.90V164.60" stroke="#505050" stroke-width="0.75" stroke-dasharray="2 2.2" fill="none"/>
<path d="M511.50 22.65H516.50M511.50 164.60H516.50" stroke="#555" stroke-width="0.7" fill="none"/>
<rect x="511.00" y="66.80" width="6.00" height="39.10" fill="#A6CEE3" stroke="#333" stroke-width="0.5"/>
<path d="M511.00 85.32H517.00" stroke="#000" stroke-width="1.2"/>
<circle cx="514.00" cy="166.50" r="1.9" fill="none" stroke="#3a3a3a" stroke-width="0.6"/>
<circle cx="514.00" cy="169.50" r="1.9" fill="none" stroke="#3a3a3a" stroke-width="0.6"/>
<circle cx="514.00" cy="172.50" r="1.9" fill="none" stroke="#3a3a3a" stroke-width="0.6"/>
<circle cx="514.00" cy="175.50" r="1.9" fill="none" stroke="#3a3a3a" stroke-width="0.6"/>
<circle cx="514.00" cy="178.50" r="1.9" fill="none" stroke="#3a3a3a" stroke-width="0.6"/>
<circle cx="514.00" cy="181.50" r="1.9" fill="none" stroke="#3a3a3a" stroke-width="0.6"/>
<circle cx="514.00" cy="184.50" r="1.9" fill="none" stroke="#3a3a3a" stroke-width="0.6"/>
<circle cx="514.00" cy="187.50" r="1.9" fill="none" stroke="#3a3a3a" stroke-width="0.6"/>
<circle cx="514.00" cy="191.00" r="1.9" fill="none" stroke="#3a3a3a" stroke-width="0.6"/>
<circle cx="514.00" cy="195.00" r="1.9" fill="none" stroke="#3a3a3a" stroke-width="0.6"/>
<circle cx="514.00" cy="199.00" r="1.9" fill="none" stroke="#3a3a3a" stroke-width="0.6"/>
<circle cx="514.00" cy="203.00" r="1.9" fill="none" stroke="#3a3a3a" stroke-width="0.6"/>
<circle cx="514.00" cy="206.00" r="1.9" fill="none" stroke="#3a3a3a" stroke-width="0.6"/>
<circle cx="514.00" cy="209.00" r="1.9" fill="none" stroke="#3a3a3a" stroke-width="0.6"/>
<circle cx="514.00" cy="213.50" r="1.9" fill="none" stroke="#3a3a3a" stroke-width="0.6"/>
<g font-family="Liberation Sans, sans-serif" font-size="4.8" fill="#333">
<text x="519.00" y="27.55">0.91</text>
<text x="519.00" y="162.90">0.25</text>
<text x="519.00" y="86.72">0.62</text>
<text x="509.40" y="68.40" text-anchor="end">0.71</text>
<text x="509.40" y="107.50" text-anchor="end">0.52</text>
</g>
<path d="M535.95 69.00V32.80M535.95 113.41V177.20" stroke="#505050" stroke-width="0.75" stroke-dasharray="2 2.2" fill="none"/>
<path d="M533.45 32.80H538.45M533.45 177.20H538.45" stroke="#555" stroke-width="0.7" fill="none"/>
<rect x="532.95" y="69.00" width="6.00" height="44.41" fill="#FFFF99" stroke="#333" stroke-width="0.5"/>
<path d="M532.95 86.00H538.95" stroke="#000" stroke-width="1.2"/>
<circle cx="535.95" cy="182.10" r="1.9" fill="none" stroke="#3a3a3a" stroke-width="0.6"/>
<circle cx="535.95" cy="185.60" r="1.9" fill="none" stroke="#3a3a3a" stroke-width="0.6"/>
<circle cx="535.95" cy="188.20" r="1.9" fill="none" stroke="#3a3a3a" stroke-width="0.6"/>
<circle cx="535.95" cy="190.80" r="1.9" fill="none" stroke="#3a3a3a" stroke-width="0.6"/>
<circle cx="535.95" cy="194.30" r="1.9" fill="none" stroke="#3a3a3a" stroke-width="0.6"/>
<circle cx="535.95" cy="198.60" r="1.9" fill="none" stroke="#3a3a3a" stroke-width="0.6"/>
<circle cx="535.95" cy="202.90" r="1.9" fill="none" stroke="#3a3a3a" stroke-width="0.6"/>
<circle cx="535.95" cy="206.40" r="1.9" fill="none" stroke="#3a3a3a" stroke-width="0.6"/>
<circle cx="535.95" cy="210.50" r="1.9" fill="none" stroke="#3a3a3a" stroke-width="0.6"/>
<circle cx="535.95" cy="216.00" r="1.9" fill="none" stroke="#3a3a3a" stroke-width="0.6"/>
<g font-family="Liberation Sans, sans-serif" font-size="4.8" fill="#333">
<text x="540.95" y="37.70">0.87</text>
<text x="540.95" y="175.50">0.19</text>
<text x="540.95" y="87.40">0.62</text>
<text x="531.35" y="70.60" text-anchor="end">0.7</text>
<text x="531.35" y="115.01" text-anchor="end">0.49</text>
</g>
<path d="M557.90 20.20V3.20M557.90 45.40V83.16" stroke="#505050" stroke-width="0.75" stroke-dasharray="2 2.2" fill="none"/>
<path d="M555.40 3.20H560.40M555.40 83.16H560.40" stroke="#555" stroke-width="0.7" fill="none"/>
<rect x="554.90" y="20.20" width="6.00" height="25.20" fill="#33A02C" stroke="#333" stroke-width="0.5"/>
<path d="M554.90 29.13H560.90" stroke="#000" stroke-width="1.2"/>
<circle cx="557.90" cy="87.20" r="1.9" fill="none" stroke="#3a3a3a" stroke-width="0.6"/>
<circle cx="557.90" cy="90.50" r="1.9" fill="none" stroke="#3a3a3a" stroke-width="0.6"/>
<circle cx="557.90" cy="98.80" r="1.9" fill="none" stroke="#3a3a3a" stroke-width="0.6"/>
<circle cx="557.90" cy="103.00" r="1.9" fill="none" stroke="#3a3a3a" stroke-width="0.6"/>
<circle cx="557.90" cy="105.50" r="1.9" fill="none" stroke="#3a3a3a" stroke-width="0.6"/>
<circle cx="557.90" cy="108.00" r="1.9" fill="none" stroke="#3a3a3a" stroke-width="0.6"/>
<circle cx="557.90" cy="111.30" r="1.9" fill="none" stroke="#3a3a3a" stroke-width="0.6"/>
<path d="M556.30 121.10L559.50 124.30M556.30 124.30L559.50 121.10" stroke="#111" stroke-width="0.85"/>
<path d="M556.30 161.40L559.50 164.60M556.30 164.60L559.50 161.40" stroke="#111" stroke-width="0.85"/>
<path d="M556.30 162.90L559.50 166.10M556.30 166.10L559.50 162.90" stroke="#111" stroke-width="0.85"/>
<path d="M556.30 167.40L559.50 170.60M556.30 170.60L559.50 167.40" stroke="#111" stroke-width="0.85"/>
<path d="M556.30 168.90L559.50 172.10M556.30 172.10L559.50 168.90" stroke="#111" stroke-width="0.85"/>
<path d="M556.30 205.30L559.50 208.50M556.30 208.50L559.50 205.30" stroke="#111" stroke-width="0.85"/>
<g font-family="Liberation Sans, sans-serif" font-size="4.8" fill="#333">
<text x="562.90" y="8.10">1</text>
<text x="562.90" y="81.46">0.63</text>
<text x="562.90" y="30.53">0.88</text>
<text x="553.30" y="21.80" text-anchor="end">0.92</text>
<text x="553.30" y="47.00" text-anchor="end">0.8</text>
</g>
<path d="M579.85 58.50V39.94M579.85 90.30V134.40" stroke="#505050" stroke-width="0.75" stroke-dasharray="2 2.2" fill="none"/>
<path d="M577.35 39.94H582.35M577.35 134.40H582.35" stroke="#555" stroke-width="0.7" fill="none"/>
<rect x="576.85" y="58.50" width="6.00" height="31.80" fill="#E31A1C" stroke="#333" stroke-width="0.5"/>
<path d="M576.85 74.51H582.85" stroke="#000" stroke-width="1.2"/>
<circle cx="579.85" cy="140.60" r="1.9" fill="none" stroke="#3a3a3a" stroke-width="0.6"/>
<circle cx="579.85" cy="169.40" r="1.9" fill="none" stroke="#3a3a3a" stroke-width="0.6"/>
<g font-family="Liberation Sans, sans-serif" font-size="4.8" fill="#333">
<text x="584.85" y="44.84">0.83</text>
<text x="584.85" y="132.70">0.39</text>
<text x="584.85" y="75.91">0.67</text>
<text x="575.25" y="60.10" text-anchor="end">0.74</text>
<text x="575.25" y="91.90" text-anchor="end">0.6</text>
</g>
<path d="M601.80 133.90V115.57M601.80 157.20V173.92" stroke="#505050" stroke-width="0.75" stroke-dasharray="2 2.2" fill="none"/>
<path d="M599.30 115.57H604.30M599.30 173.92H604.30" stroke="#555" stroke-width="0.7" fill="none"/>
<rect x="598.80" y="133.90" width="6.00" height="23.30" fill="#B15928" stroke="#333" stroke-width="0.5"/>
<path d="M598.80 145.10H604.80" stroke="#000" stroke-width="1.2"/>
<circle cx="601.80" cy="192.90" r="1.9" fill="none" stroke="#3a3a3a" stroke-width="0.6"/>
<circle cx="601.80" cy="203.60" r="1.9" fill="none" stroke="#3a3a3a" stroke-width="0.6"/>
<circle cx="601.80" cy="211.30" r="1.9" fill="none" stroke="#3a3a3a" stroke-width="0.6"/>
<circle cx="601.80" cy="214.40" r="1.9" fill="none" stroke="#3a3a3a" stroke-width="0.6"/>
<g font-family="Liberation Sans, sans-serif" font-size="4.8" fill="#333">
<text x="606.80" y="120.47">0.48</text>
<text x="606.80" y="172.22">0.21</text>
<text x="606.80" y="146.50">0.34</text>
<text x="597.20" y="135.50" text-anchor="end">0.4</text>
<text x="597.20" y="158.80" text-anchor="end">0.29</text>
</g>
<path d="M623.75 83.16V55.90M623.75 136.30V188.10" stroke="#505050" stroke-width="0.75" stroke-dasharray="2 2.2" fill="none"/>
<path d="M621.25 55.90H626.25M621.25 188.10H626.25" stroke="#555" stroke-width="0.7" fill="none"/>
<rect x="620.75" y="83.16" width="6.00" height="53.14" fill="#6A3D9A" stroke="#333" stroke-width="0.5"/>
<path d="M620.75 94.90H626.75" stroke="#000" stroke-width="1.2"/>
<g font-family="Liberation Sans, sans-serif" font-size="4.8" fill="#333">
<text x="628.75" y="60.80">0.76</text>
<text x="628.75" y="186.40">0.14</text>
<text x="628.75" y="96.30">0.57</text>
<text x="619.15" y="84.76" text-anchor="end">0.63</text>
<text x="619.15" y="137.90" text-anchor="end">0.38</text>
</g>
<path d="M645.70 110.20V81.00M645.70 152.31V210.66" stroke="#505050" stroke-width="0.75" stroke-dasharray="2 2.2" fill="none"/>
<path d="M643.20 81.00H648.20M643.20 210.66H648.20" stroke="#555" stroke-width="0.7" fill="none"/>
<rect x="642.70" y="110.20" width="6.00" height="42.11" fill="#1F78B4" stroke="#333" stroke-width="0.5"/>
<path d="M642.70 128.54H648.70" stroke="#000" stroke-width="1.2"/>
<circle cx="645.70" cy="219.00" r="1.9" fill="none" stroke="#3a3a3a" stroke-width="0.6"/>
<g font-family="Liberation Sans, sans-serif" font-size="4.8" fill="#333">
<text x="650.70" y="85.90">0.64</text>
<text x="650.70" y="208.96">0.04</text>
<text x="650.70" y="129.94">0.42</text>
<text x="641.10" y="111.80" text-anchor="end">0.51</text>
<text x="641.10" y="153.91" text-anchor="end">0.31</text>
</g>
<path d="M667.65 106.93V74.51M667.65 139.34V182.56" stroke="#505050" stroke-width="0.75" stroke-dasharray="2 2.2" fill="none"/>
<path d="M665.15 74.51H670.15M665.15 182.56H670.15" stroke="#555" stroke-width="0.7" fill="none"/>
<rect x="664.65" y="106.93" width="6.00" height="32.42" fill="#FF7F00" stroke="#333" stroke-width="0.5"/>
<path d="M664.65 122.06H670.65" stroke="#000" stroke-width="1.2"/>
<circle cx="667.65" cy="191.30" r="1.9" fill="none" stroke="#3a3a3a" stroke-width="0.6"/>
<circle cx="667.65" cy="198.00" r="1.9" fill="none" stroke="#3a3a3a" stroke-width="0.6"/>
<circle cx="667.65" cy="201.20" r="1.9" fill="none" stroke="#3a3a3a" stroke-width="0.6"/>
<circle cx="667.65" cy="206.70" r="1.9" fill="none" stroke="#3a3a3a" stroke-width="0.6"/>
<g font-family="Liberation Sans, sans-serif" font-size="4.8" fill="#333">
<text x="672.65" y="79.41">0.67</text>
<text x="672.65" y="180.86">0.17</text>
<text x="672.65" y="123.46">0.45</text>
<text x="663.05" y="108.53" text-anchor="end">0.52</text>
<text x="663.05" y="140.94" text-anchor="end">0.37</text>
</g>
<path d="M689.60 104.30V77.50M689.60 160.95V194.30" stroke="#505050" stroke-width="0.75" stroke-dasharray="2 2.2" fill="none"/>
<path d="M687.10 77.50H692.10M687.10 194.30H692.10" stroke="#555" stroke-width="0.7" fill="none"/>
<rect x="686.60" y="104.30" width="6.00" height="56.65" fill="#B2DF8A" stroke="#333" stroke-width="0.5"/>
<path d="M686.60 137.90H692.60" stroke="#000" stroke-width="1.2"/>
<g font-family="Liberation Sans, sans-serif" font-size="4.8" fill="#333">
<text x="694.60" y="82.40">0.65</text>
<text x="694.60" y="192.60">0.11</text>
<text x="694.60" y="139.30">0.37</text>
<text x="685.00" y="105.90" text-anchor="end">0.53</text>
<text x="685.00" y="162.55" text-anchor="end">0.27</text>
</g>
<path d="M711.55 12.90V3.20M711.55 38.90V78.84" stroke="#505050" stroke-width="0.75" stroke-dasharray="2 2.2" fill="none"/>
<path d="M709.05 3.20H714.05M709.05 78.84H714.05" stroke="#555" stroke-width="0.7" fill="none"/>
<rect x="708.55" y="12.90" width="6.00" height="26.00" fill="#FDBF6F" stroke="#333" stroke-width="0.5"/>
<path d="M708.55 22.65H714.55" stroke="#000" stroke-width="1.2"/>
<circle cx="711.55" cy="79.60" r="1.9" fill="none" stroke="#3a3a3a" stroke-width="0.6"/>
<circle cx="711.55" cy="82.50" r="1.9" fill="none" stroke="#3a3a3a" stroke-width="0.6"/>
<circle cx="711.55" cy="86.00" r="1.9" fill="none" stroke="#3a3a3a" stroke-width="0.6"/>
<circle cx="711.55" cy="89.50" r="1.9" fill="none" stroke="#3a3a3a" stroke-width="0.6"/>
<circle cx="711.55" cy="93.00" r="1.9" fill="none" stroke="#3a3a3a" stroke-width="0.6"/>
<circle cx="711.55" cy="96.50" r="1.9" fill="none" stroke="#3a3a3a" stroke-width="0.6"/>
<circle cx="711.55" cy="100.00" r="1.9" fill="none" stroke="#3a3a3a" stroke-width="0.6"/>
<circle cx="711.55" cy="103.50" r="1.9" fill="none" stroke="#3a3a3a" stroke-width="0.6"/>
<circle cx="711.55" cy="107.00" r="1.9" fill="none" stroke="#3a3a3a" stroke-width="0.6"/>
<circle cx="711.55" cy="112.00" r="1.9" fill="none" stroke="#3a3a3a" stroke-width="0.6"/>
<path d="M709.95 121.90L713.15 125.10M709.95 125.10L713.15 121.90" stroke="#111" stroke-width="0.85"/>
<path d="M709.95 125.60L713.15 128.80M709.95 128.80L713.15 125.60" stroke="#111" stroke-width="0.85"/>
<path d="M709.95 140.10L713.15 143.30M709.95 143.30L713.15 140.10" stroke="#111" stroke-width="0.85"/>
<path d="M709.95 150.30L713.15 153.50M709.95 153.50L713.15 150.30" stroke="#111" stroke-width="0.85"/>
<path d="M709.95 156.20L713.15 159.40M709.95 159.40L713.15 156.20" stroke="#111" stroke-width="0.85"/>
<path d="M709.95 165.80L713.15 169.00M709.95 169.00L713.15 165.80" stroke="#111" stroke-width="0.85"/>
<path d="M709.95 168.40L713.15 171.60M709.95 171.60L713.15 168.40" stroke="#111" stroke-width="0.85"/>
<path d="M709.95 170.00L713.15 173.20M709.95 173.20L713.15 170.00" stroke="#111" stroke-width="0.85"/>
<path d="M709.95 174.40L713.15 177.60M709.95 177.60L713.15 174.40" stroke="#111" stroke-width="0.85"/>
<path d="M709.95 202.00L713.15 205.20M709.95 205.20L713.15 202.00" stroke="#111" stroke-width="0.85"/>
<g font-family="Liberation Sans, sans-serif" font-size="4.8" fill="#333">
<text x="716.55" y="8.10">1</text>
<text x="716.55" y="77.14">0.65</text>
<text x="716.55" y="24.05">0.91</text>
<text x="706.95" y="14.50" text-anchor="end">0.96</text>
<text x="706.95" y="40.50" text-anchor="end">0.83</text>
</g>
<path d="M733.50 55.90V32.80M733.50 88.20V129.30" stroke="#505050" stroke-width="0.75" stroke-dasharray="2 2.2" fill="none"/>
<path d="M731.00 32.80H736.00M731.00 129.30H736.00" stroke="#555" stroke-width="0.7" fill="none"/>
<rect x="730.50" y="55.90" width="6.00" height="32.30" fill="#FB9A99" stroke="#333" stroke-width="0.5"/>
<path d="M730.50 68.50H736.50" stroke="#000" stroke-width="1.2"/>
<circle cx="733.50" cy="185.20" r="1.9" fill="none" stroke="#3a3a3a" stroke-width="0.6"/>
<path d="M731.90 205.40L735.10 208.60M731.90 208.60L735.10 205.40" stroke="#111" stroke-width="0.85"/>
<path d="M731.90 212.80L735.10 216.00M731.90 216.00L735.10 212.80" stroke="#111" stroke-width="0.85"/>
<g font-family="Liberation Sans, sans-serif" font-size="4.8" fill="#333">
<text x="738.50" y="37.70">0.87</text>
<text x="738.50" y="127.60">0.41</text>
<text x="738.50" y="69.90">0.7</text>
<text x="728.90" y="57.50" text-anchor="end">0.76</text>
<text x="728.90" y="89.80" text-anchor="end">0.6</text>
</g>
<path d="M755.45 65.87V35.62M755.45 117.73V192.20" stroke="#505050" stroke-width="0.75" stroke-dasharray="2 2.2" fill="none"/>
<path d="M752.95 35.62H757.95M752.95 192.20H757.95" stroke="#555" stroke-width="0.7" fill="none"/>
<rect x="752.45" y="65.87" width="6.00" height="51.86" fill="#CAB2D6" stroke="#333" stroke-width="0.5"/>
<path d="M752.45 89.64H758.45" stroke="#000" stroke-width="1.2"/>
<circle cx="755.45" cy="196.90" r="1.9" fill="none" stroke="#3a3a3a" stroke-width="0.6"/>
<circle cx="755.45" cy="200.00" r="1.9" fill="none" stroke="#3a3a3a" stroke-width="0.6"/>
<circle cx="755.45" cy="202.00" r="1.9" fill="none" stroke="#3a3a3a" stroke-width="0.6"/>
<circle cx="755.45" cy="209.10" r="1.9" fill="none" stroke="#3a3a3a" stroke-width="0.6"/>
<g font-family="Liberation Sans, sans-serif" font-size="4.8" fill="#333">
<text x="760.45" y="40.52">0.85</text>
<text x="760.45" y="190.50">0.12</text>
<text x="760.45" y="91.04">0.6</text>
<text x="750.85" y="67.47" text-anchor="end">0.71</text>
<text x="750.85" y="119.33" text-anchor="end">0.47</text>
</g>
<path d="M777.40 93.10V64.50M777.40 132.86V189.05" stroke="#505050" stroke-width="0.75" stroke-dasharray="2 2.2" fill="none"/>
<path d="M774.90 64.50H779.90M774.90 189.05H779.90" stroke="#555" stroke-width="0.7" fill="none"/>
<rect x="774.40" y="93.10" width="6.00" height="39.76" fill="#A6CEE3" stroke="#333" stroke-width="0.5"/>
<path d="M774.40 109.09H780.40" stroke="#000" stroke-width="1.2"/>
<circle cx="777.40" cy="193.80" r="1.9" fill="none" stroke="#3a3a3a" stroke-width="0.6"/>
<circle cx="777.40" cy="200.60" r="1.9" fill="none" stroke="#3a3a3a" stroke-width="0.6"/>
<g font-family="Liberation Sans, sans-serif" font-size="4.8" fill="#333">
<text x="782.40" y="69.40">0.72</text>
<text x="782.40" y="187.35">0.14</text>
<text x="782.40" y="110.49">0.51</text>
<text x="772.80" y="94.70" text-anchor="end">0.58</text>
<text x="772.80" y="134.46" text-anchor="end">0.4</text>
</g>
<rect x="8.00" y="245.8" width="80.80" height="52.5" fill="#E9EEF7"/>
<g font-family="Liberation Sans, sans-serif" font-size="5.0" fill="#3c3c3c" stroke="#3c3c3c" stroke-width="0.1">
<text x="19.50" y="253.10" text-anchor="middle">1</text>
<text x="32.90" y="253.10" class="lt">Biliary</text>
<text x="19.50" y="263.70" text-anchor="middle">2</text>
<text x="32.90" y="263.70" class="lt">Breast</text>
<text x="19.50" y="273.60" text-anchor="middle">3</text>
<text x="32.90" y="273.60" class="lt">CNS_Glioma</text>
<text x="19.50" y="284.40" text-anchor="middle">4</text>
<text x="32.90" y="284.40" class="lt">CNS_Medullo</text>
<text x="19.50" y="294.90" text-anchor="middle">5</text>
<text x="32.90" y="294.90" class="lt">CNS_PiloAstro</text>
</g>
<rect x="97.00" y="245.8" width="130.00" height="52.5" fill="#E9EEF7"/>
<g font-family="Liberation Sans, sans-serif" font-size="5.0" fill="#3c3c3c" stroke="#3c3c3c" stroke-width="0.1">
<text x="116.00" y="253.10" text-anchor="middle">6</text>
<text x="135.00" y="253.10" class="lt">Cervix</text>
<text x="116.00" y="263.70" text-anchor="middle">7</text>
<text x="135.00" y="263.70" class="lt">Colorectal</text>
<text x="116.00" y="273.60" text-anchor="middle">8</text>
<text x="135.00" y="273.60" class="lt">Gastroesophageal</text>
<text x="116.00" y="284.40" text-anchor="middle">9</text>
<text x="135.00" y="284.40" class="lt">HeadAndNeck_Other</text>
<text x="116.00" y="294.90" text-anchor="middle">10</text>
<text x="135.00" y="294.90" class="lt">HeadAndNeck_SalivaryGland</text>
</g>
<rect x="234.60" y="245.8" width="120.40" height="52.5" fill="#E9EEF7"/>
<g font-family="Liberation Sans, sans-serif" font-size="5.0" fill="#3c3c3c" stroke="#3c3c3c" stroke-width="0.1">
<text x="254.60" y="253.10" text-anchor="middle">11</text>
<text x="275.40" y="253.10" class="lt">Kidney_Chromophobe</text>
<text x="254.60" y="263.70" text-anchor="middle">12</text>
<text x="275.40" y="263.70" class="lt">Kidney_ClearCell</text>
<text x="254.60" y="273.60" text-anchor="middle">13</text>
<text x="275.40" y="273.60" class="lt">Kidney_Papillary</text>
<text x="254.60" y="284.40" text-anchor="middle">14</text>
<text x="275.40" y="284.40" class="lt">Liver</text>
<text x="254.60" y="294.90" text-anchor="middle">15</text>
<text x="275.40" y="294.90" class="lt">Lung_NonSmallCell</text>
</g>
<rect x="363.60" y="245.8" width="110.40" height="52.5" fill="#E9EEF7"/>
<g font-family="Liberation Sans, sans-serif" font-size="5.0" fill="#3c3c3c" stroke="#3c3c3c" stroke-width="0.1">
<text x="382.00" y="253.10" text-anchor="middle">16</text>
<text x="401.00" y="253.10" class="lt">Lung_SmallCell</text>
<text x="382.00" y="263.70" text-anchor="middle">17</text>
<text x="401.00" y="263.70" class="lt">Lymphoid</text>
<text x="382.00" y="273.60" text-anchor="middle">18</text>
<text x="401.00" y="273.60" class="lt">Mesothelium</text>
<text x="382.00" y="284.40" text-anchor="middle">19</text>
<text x="401.00" y="284.40" class="lt">Myeloid</text>
<text x="382.00" y="294.90" text-anchor="middle">20</text>
<text x="401.00" y="294.90" class="lt">NET_Gastrointestinal</text>
</g>
<rect x="482.60" y="245.8" width="93.40" height="52.5" fill="#E9EEF7"/>
<g font-family="Liberation Sans, sans-serif" font-size="5.0" fill="#3c3c3c" stroke="#3c3c3c" stroke-width="0.1">
<text x="499.60" y="253.10" text-anchor="middle">21</text>
<text x="518.00" y="253.10" class="lt">NET_Lung</text>
<text x="499.60" y="263.70" text-anchor="middle">22</text>
<text x="518.00" y="263.70" class="lt">NET_Pancreas</text>
<text x="499.60" y="273.60" text-anchor="middle">23</text>
<text x="518.00" y="273.60" class="lt">Ovarian</text>
<text x="499.60" y="284.40" text-anchor="middle">24</text>
<text x="518.00" y="284.40" class="lt">Pancreas</text>
<text x="499.60" y="294.90" text-anchor="middle">25</text>
<text x="518.00" y="294.90" class="lt">Prostate</text>
</g>
<rect x="584.60" y="245.8" width="103.40" height="52.5" fill="#E9EEF7"/>
<g font-family="Liberation Sans, sans-serif" font-size="5.0" fill="#3c3c3c" stroke="#3c3c3c" stroke-width="0.1">
<text x="601.60" y="253.10" text-anchor="middle">26</text>
<text x="619.60" y="253.10" class="lt">Sarcoma_GIST</text>
<text x="601.60" y="263.70" text-anchor="middle">27</text>
<text x="619.60" y="263.70" class="lt">Sarcoma_Leiomyo</text>
<text x="601.60" y="273.60" text-anchor="middle">28</text>
<text x="619.60" y="273.60" class="lt">Sarcoma_Lipo</text>
<text x="601.60" y="284.40" text-anchor="middle">29</text>
<text x="619.60" y="284.40" class="lt">Sarcoma_Osteo</text>
<text x="601.60" y="294.90" text-anchor="middle">30</text>
<text x="619.60" y="294.90" class="lt">Sarcoma_Other</text>
</g>
<rect x="696.00" y="245.8" width="94.40" height="52.5" fill="#E9EEF7"/>
<g font-family="Liberation Sans, sans-serif" font-size="5.0" fill="#3c3c3c" stroke="#3c3c3c" stroke-width="0.1">
<text x="711.60" y="253.10" text-anchor="middle">31</text>
<text x="729.60" y="253.10" class="lt">Skin_Carcinoma</text>
<text x="711.60" y="263.70" text-anchor="middle">32</text>
<text x="729.60" y="263.70" class="lt">Skin_Melanoma</text>
<text x="711.60" y="273.60" text-anchor="middle">33</text>
<text x="729.60" y="273.60" class="lt">Thyroid</text>
<text x="711.60" y="284.40" text-anchor="middle">34</text>
<text x="729.60" y="284.40" class="lt">Urothelial</text>
<text x="711.60" y="294.90" text-anchor="middle">35</text>
<text x="729.60" y="294.90" class="lt">Uterus</text>
</g></svg>
</body></html>
